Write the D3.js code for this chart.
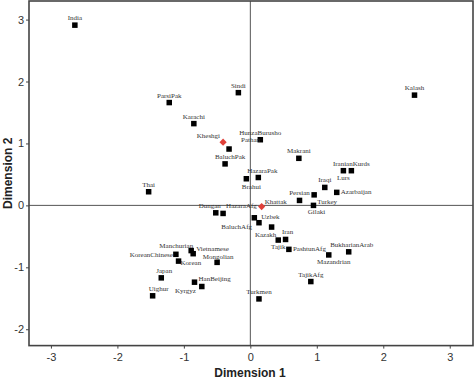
<!DOCTYPE html>
<html lang="en">
<head>
<meta charset="UTF-8" />
<title>Dimension plot</title>
<style>
  * { margin:0; padding:0; box-sizing:border-box; }
  body { background:#fff; width:474px; height:379px; overflow:hidden; }
  svg { display:block; }
  .tick text { font-family:'Liberation Sans',Arial,sans-serif; font-size:11px; fill:#333; }
  .tick line { stroke:#444; }
  .domain { display:none; }
  .axis-title { font-family:'Liberation Sans',Arial,sans-serif; font-size:12px; font-weight:bold; fill:#222; }
  .pt-label { font-family:'Liberation Serif','Times New Roman',serif; font-size:7px; fill:#333; }
</style>
</head>
<body>
<script src="https://d3js.org/d3.v7.min.js"></script>
<script>
  // populations, coordinates on the two dimensions, and which ones are the study groups
  const names = ['India','Kalash','Sindi','ParsiPak','Karachi','Kheshgi','Pathan','HunzaBurusho','BaluchPak',
    'Makrani','HazaraPak','Brahui','Thai','Persian','Turkey','Gilaki','Iraqi','Azarbaijan','Lurs','IranianKurds',
    'Dungan','HazaraAfg','Khattak','Uzbek','BaluchAfg','Kazakh','Iran','Tajik','PashtunAfg','BukharianArab',
    'Mazandrian','TajikAfg','Turkmen','Manchurian','Vietnamese','KoreanChinese','Korean','Mongolian','Japan',
    'HanBeijing','Kyrgyz','Uighur'];
  const dim1 = [-2.64, 2.47, -0.18, -1.22, -0.85, -0.41, -0.32, 0.15, -0.38,
    0.73, 0.12, -0.06, -1.53, 0.74, 0.96, 0.95, 1.12, 1.30, 1.40, 1.52,
    -0.52, -0.41, 0.17, 0.06, 0.13, 0.32, 0.53, 0.42, 0.58, 1.48,
    1.18, 0.91, 0.13, -0.89, -0.86, -1.12, -1.08, -0.50, -1.34,
    -0.84, -0.73, -1.47];
  const dim2 = [2.91, 1.78, 1.82, 1.66, 1.32, 1.02, 0.91, 1.06, 0.67,
    0.76, 0.45, 0.43, 0.22, 0.08, 0.17, 0.00, 0.29, 0.21, 0.56, 0.56,
    -0.12, -0.13, -0.02, -0.20, -0.28, -0.35, -0.55, -0.56, -0.71, -0.75,
    -0.80, -1.23, -1.51, -0.73, -0.78, -0.79, -0.90, -0.92, -1.17,
    -1.24, -1.31, -1.46];
  const studied = ['Kheshgi','Khattak'];
  const xTicks = [-3,-2,-1,0,1,2,3];
  const yTicks = [-2,-1,0,1,2,3];

  // where each label sits relative to its marker: [anchor, dx, dy]
  const labelPos = {
    Kheshgi:['end',-3,-4], Pathan:['start',12,-7], BaluchPak:['middle',5,-5], HazaraPak:['middle',4,-5],
    Brahui:['middle',5,10], Turkey:['start',3,9], Gilaki:['middle',3,9], Azarbaijan:['start',4,2],
    Lurs:['middle',0,9], Dungan:['middle',-6,-5], HazaraAfg:['start',3,-5], Khattak:['start',3,-3],
    Uzbek:['start',7,1], BaluchAfg:['end',-7,6], Kazakh:['middle',-6,10], Iran:['middle',2,-5],
    Tajik:['middle',0,9], PashtunAfg:['start',4,2], BukharianArab:['middle',3,-5], Mazandrian:['middle',5,9],
    Manchurian:['end',2,-3], Vietnamese:['start',3,-3], KoreanChinese:['end',-3,3], Korean:['start',2,4],
    Mongolian:['middle',1,-3.5],
    Japan:['middle',3,-5], HanBeijing:['start',4,-1], Kyrgyz:['end',-6,6], Uighur:['middle',6,-5]
  };
  const defPos = ['middle',0,-5];

  const W = 474, H = 379;
  const pl = 29, pr = 473, pt = 1, pb = 345.6;
  const svg = d3.select('body').append('svg').attr('width', W).attr('height', H);

  const x = d3.scaleLinear().domain([-3.33, 3.35]).range([pl, pr]);
  const y = d3.scaleLinear().domain([-2.264, 3.30]).range([pb, pt]);

  const pts = names.map((n,i)=>({name:n, d1:dim1[i], d2:dim2[i], red:studied.includes(n), lp:labelPos[n]||defPos}));

  // reference lines through the origin
  svg.append('line').attr('x1',x(0)).attr('x2',x(0)).attr('y1',pt).attr('y2',pb)
     .attr('stroke','#555').attr('stroke-width',1);
  svg.append('line').attr('x1',pl).attr('x2',pr).attr('y1',y(0)).attr('y2',y(0))
     .attr('stroke','#555').attr('stroke-width',1);

  // axes
  svg.append('g').attr('transform',`translate(0,${pb})`)
     .call(d3.axisBottom(x).tickValues(xTicks).tickFormat(d=>String(d)).tickSize(3).tickPadding(5));
  svg.append('g').attr('transform',`translate(${pl},0)`)
     .call(d3.axisLeft(y).tickValues(yTicks).tickFormat(d=>String(d)).tickSize(3).tickPadding(2));

  // frame
  svg.append('rect').attr('x',pl).attr('y',pt).attr('width',pr-pl).attr('height',pb-pt)
     .attr('fill','none').attr('stroke','#444').attr('stroke-width',1.6);

  // markers
  const s = 5.5;
  svg.append('g').selectAll('rect').data(pts.filter(d=>!d.red)).join('rect')
     .attr('x',d=>x(d.d1)-s/2).attr('y',d=>y(d.d2)-s/2)
     .attr('width',s).attr('height',s).attr('fill','#000');
  svg.append('g').selectAll('path').data(pts.filter(d=>d.red)).join('path')
     .attr('d','M0,-3.6L3.6,0L0,3.6L-3.6,0Z')
     .attr('transform',d=>`translate(${x(d.d1)},${y(d.d2)})`)
     .attr('fill','#e0413a');

  // labels
  svg.append('g').selectAll('text').data(pts).join('text')
     .attr('class','pt-label')
     .attr('text-anchor',d=>d.lp[0])
     .attr('x',d=>x(d.d1)+d.lp[1])
     .attr('y',d=>y(d.d2)+d.lp[2])
     .text(d=>d.name);

  // axis titles
  svg.append('text').attr('class','axis-title').attr('text-anchor','middle')
     .attr('x',250).attr('y',377).text('Dimension 1');
  svg.append('text').attr('class','axis-title').attr('text-anchor','middle')
     .attr('transform',`translate(12,${(pt+pb)/2}) rotate(-90)`).text('Dimension 2');
</script>
</body>
</html>
